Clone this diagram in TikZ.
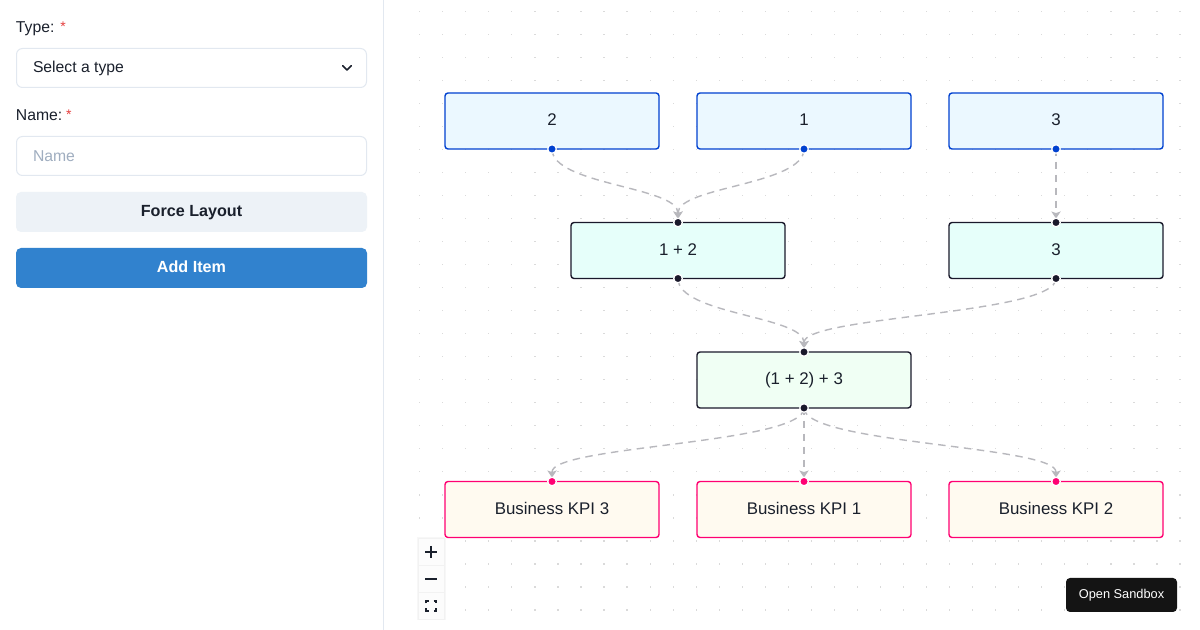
\documentclass[tikz,border=0pt]{standalone}
\usepackage{fontspec}
\setmainfont{Liberation Sans}
\usetikzlibrary{arrows.meta,backgrounds}
\def\px{0.75pt}
\definecolor{ink}{HTML}{1A202C}
\definecolor{panelline}{HTML}{E2E8F0}
\definecolor{holder}{HTML}{A0AEC0}
\definecolor{starred}{HTML}{E53E3E}
\definecolor{edgegrey}{HTML}{B8B8BD}
\definecolor{dotgrey}{HTML}{DADADA}
\definecolor{rfblue}{HTML}{0041D0}
\definecolor{rfdark}{HTML}{1A192B}
\definecolor{rfpink}{HTML}{FF0072}
\definecolor{srcfill}{HTML}{EBF8FF}
\definecolor{midfill}{HTML}{E6FFFA}
\definecolor{sumfill}{HTML}{F0FFF4}
\definecolor{kpifill}{HTML}{FFFAF0}
\definecolor{addblue}{HTML}{3182CE}
\definecolor{forcegrey}{HTML}{EDF2F7}
\definecolor{sandbox}{HTML}{141414}
\newcommand{\reqstar}{\raisebox{1pt}{\color{starred}\fontsize{10.5pt}{12pt}\selectfont*}}
\tikzset{
  x=0.75pt, y=-0.75pt,
  uitext/.style={inner sep=0pt, outer sep=0pt, text=ink, font=\fontsize{11.8pt}{14pt}\selectfont},
  fieldbox/.style={draw=panelline, line width=1*\px, fill=white, rounded corners=6*\px, minimum width=350*\px, minimum height=39*\px, inner sep=0pt},
  btn/.style={rounded corners=5*\px, minimum width=351*\px, minimum height=40*\px, inner sep=0pt, text height=7.5pt, text depth=0pt, font=\fontsize{12.1pt}{14pt}\selectfont\bfseries},
  card/.style={draw, line width=1.4*\px, rounded corners=3*\px, minimum width=214*\px, minimum height=56*\px, inner sep=0pt, outer sep=0pt, text=ink, text height=7.5pt, text depth=0pt, font=\fontsize{12.65pt}{14pt}\selectfont},
  srcbox/.style={card, draw=rfblue, fill=srcfill},
  midbox/.style={card, draw=rfdark, fill=midfill},
  sumbox/.style={card, draw=rfdark, fill=sumfill},
  kpibox/.style={card, draw=rfpink, fill=kpifill},
  handle/.style={circle, draw=white, line width=1.2*\px, minimum size=8.5*\px, inner sep=0pt, outer sep=0pt},
  hblue/.style={handle, fill=rfblue},
  hdark/.style={handle, fill=rfdark},
  hpink/.style={handle, fill=rfpink},
  edge/.style={draw=edgegrey, line width=1.4*\px, dash pattern=on 7.5*\px off 5.5*\px,
    -{Stealth[length=7*\px, width=9.5*\px, inset=1.5*\px, fill=edgegrey, line width=0pt]}, shorten >=4*\px},
  ctrlcell/.style={draw=black!5, line width=1*\px, fill=black!1, minimum width=26*\px, minimum height=27*\px, inner sep=0pt},
  ctrlmark/.style={draw=ink, line width=1.5*\px},
}
\begin{document}
\begin{tikzpicture}
\useasboundingbox (0,0) rectangle (1200,630);
\begin{scope}[on background layer]
\fill[white] (0,0) rectangle (1200,630);
\foreach \i in {0,...,33}{\foreach \j in {0,...,26}{
  \fill[dotgrey] ({419.7+23.04*\i-0.6},{11.5+23.02*\j-0.6}) rectangle ++(1.2,1.2);
}}
\end{scope}
% panel
\draw[panelline, line width=1*\px] (383.5,0) -- (383.5,630);
\node[uitext, anchor=base west] (typelabel) at (16,33) {Type:\kern 4.4pt\reqstar};
\node[fieldbox] (typefield) at (191.5,68) {};
\node[uitext, anchor=base west] (typevalue) at (33,73) {Select a type};
\draw[ink, line width=1.6*\px, line cap=round, line join=round] (342.8,65.8) -- (347,70) -- (351.2,65.8);
\node[uitext, anchor=base west] (namelabel) at (16,121) {Name:\kern 2.9pt\reqstar};
\node[fieldbox] (namefield) at (191.5,156) {};
\node[uitext, anchor=base west, text=holder] (nameholder) at (33,162) {Name};
\node[btn, fill=forcegrey, text=ink] (force) at (191.5,212) {Force Layout};
\node[btn, fill=addblue, text=white] (additem) at (191.5,268) {Add Item};
% cards
\node[srcbox] (n2) at (552,121) {2};
\node[srcbox] (n1) at (804,121) {1};
\node[srcbox] (n3) at (1056,121) {3};
\node[midbox] (m12) at (678,250.5) {1 + 2};
\node[midbox] (m3) at (1056,250.5) {3};
\node[sumbox] (s) at (804,380) {(1 + 2) + 3};
\node[kpibox] (k3) at (552,509.5) {Business KPI 3};
\node[kpibox] (k1) at (804,509.5) {Business KPI 1};
\node[kpibox] (k2) at (1056,509.5) {Business KPI 2};
% handles
\node[hblue] (n2b) at (n2.south) {};
\node[hblue] (n1b) at (n1.south) {};
\node[hblue] (n3b) at (n3.south) {};
\node[hdark] (m12t) at (m12.north) {};
\node[hdark] (m3t) at (m3.north) {};
\node[hdark] (m12b) at (m12.south) {};
\node[hdark] (m3b) at (m3.south) {};
\node[hdark] (st) at (s.north) {};
\node[hdark] (sb) at (s.south) {};
\node[hpink] (k3t) at (k3.north) {};
\node[hpink] (k1t) at (k1.north) {};
\node[hpink] (k2t) at (k2.north) {};
% edges
\begin{scope}[on background layer]
\draw[edge] (n2b.center) .. controls +(0,36) and +(0,-36) .. (m12t.center);
\draw[edge] (n1b.center) .. controls +(0,36) and +(0,-36) .. (m12t.center);
\draw[edge] (n3b.center) -- (m3t.center);
\draw[edge] (m12b.center) .. controls +(0,36) and +(0,-36) .. (st.center);
\draw[edge] (m3b.center) .. controls +(0,36) and +(0,-36) .. (st.center);
\draw[edge] (sb.center) .. controls +(0,36) and +(0,-36) .. (k3t.center);
\draw[edge] (sb.center) -- (k1t.center);
\draw[edge] (sb.center) .. controls +(0,36) and +(0,-36) .. (k2t.center);
\end{scope}
% controls
\fill[black!3] (416.5,537.5) rectangle (445.5,620.5);
\node[ctrlcell] (zoomin) at (431,552) {};
\node[ctrlcell] (zoomout) at (431,579) {};
\node[ctrlcell] (fit) at (431,606) {};
\draw[ctrlmark] (425,552) -- (437,552) (431,546) -- (431,558);
\draw[ctrlmark] (425,579) -- (437,579);
\draw[ctrlmark] (426,603.5) -- (426,601) -- (428.5,601) (433.5,601) -- (436,601) -- (436,603.5)
  (436,608.5) -- (436,611) -- (433.5,611) (428.5,611) -- (426,611) -- (426,608.5);
% sandbox
\node[fill=sandbox, text=white, rounded corners=4*\px, minimum width=111*\px, minimum height=34*\px, inner sep=0pt, font=\fontsize{9.6pt}{11pt}\selectfont] (opensandbox) at (1121.5,595) {Open Sandbox};
\end{tikzpicture}
\end{document}
